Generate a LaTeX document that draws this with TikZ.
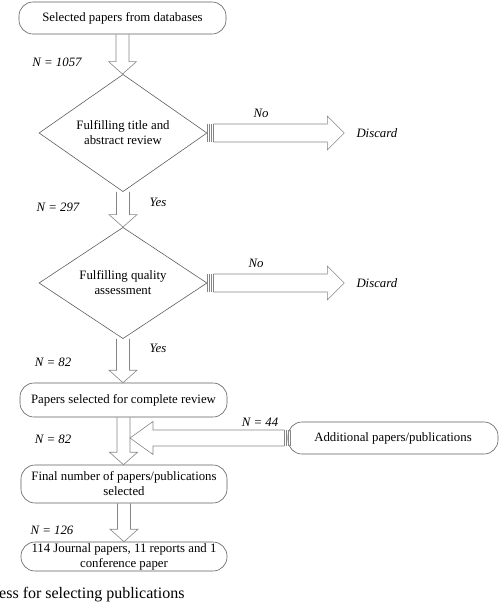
\documentclass[tikz,border=0pt]{standalone}
\usepackage{fontspec}
\setmainfont{Liberation Serif}
\usetikzlibrary{positioning,shapes.geometric,calc}
\definecolor{cline}{HTML}{5E5E5E}
\definecolor{carrow}{HTML}{858585}

% hollow block arrows between node anchors
\newcommand{\vblock}[2]{%
  \draw[blk] ($(#1)+(-6.5,0)$) -- ($(#1 |- #2)+(-6.5,12.5)$) -- ($(#1 |- #2)+(-14,12.5)$)
    -- (#1 |- #2) -- ($(#1 |- #2)+(14,12.5)$) -- ($(#1 |- #2)+(6.5,12.5)$) -- ($(#1)+(6.5,0)$);}
\newcommand{\rblock}[2]{%
  \draw[blk] ($(#1)+(6,9)$) -- ($(#2 |- #1)+(-17,9)$) -- ($(#2 |- #1)+(-17,17)$)
    -- (#2 |- #1) -- ($(#2 |- #1)+(-17,-17)$) -- ($(#2 |- #1)+(-17,-9)$) -- ($(#1)+(6,-9)$);
  \foreach \dx in {0,2,4,6} \draw[blk] ($(#1)+(\dx,9)$) -- ($(#1)+(\dx,-9)$);}
\newcommand{\lblock}[2]{%
  \draw[blk] ($(#1)+(-3,8)$) -- ($(#2 |- #1)+(23,8)$) -- ($(#2 |- #1)+(23,16.5)$)
    -- (#2 |- #1) -- ($(#2 |- #1)+(23,-16.5)$) -- ($(#2 |- #1)+(23,-8)$) -- ($(#1)+(-3,-8)$);
  \foreach \dx in {-3,-1,1,3} \draw[blk] ($(#1)+(\dx,8)$) -- ($(#1)+(\dx,-8)$);}

\begin{document}
\begin{tikzpicture}[
  x=1pt, y=1pt,
  font=\fontsize{12.8}{15}\selectfont,
  box/.style={draw=cline, line width=0.6pt, rounded corners=14pt, align=center, inner sep=1pt,
    minimum width=207pt, minimum height=32pt},
  test/.style={diamond, draw=cline, line width=0.6pt, align=center, inner sep=0pt,
    minimum width=168pt, minimum height=100pt},
  blk/.style={draw=carrow, line width=0.6pt, line join=miter},
  lbl/.style={font=\fontsize{12.8}{15}\selectfont\itshape, inner sep=0pt},
]
\useasboundingbox (0,0) rectangle (500,-611);

% ---------- main column ----------
\node[box] (src) at (122.5,-18) {Selected papers from databases};
\node[test] (tia) at (123,-133) {Fulfilling title and\\abstract review};
\node[test] (qa) at (123,-283) {Fulfilling quality\\assessment};
\node[box, minimum height=34pt] (full) at (123.5,-400) {Papers selected for complete review};
\node[box, minimum width=206pt, minimum height=38pt] (fin) at (124,-484) {Final number of papers/publications\\selected};
\node[box, minimum width=206pt, minimum height=29pt] (res) at (124,-556.5) {114 Journal papers, 11 reports and 1\\conference paper};
\node[box, minimum width=210pt] (add) at (393,-438) {Additional papers/publications};

\vblock{src.south}{tia.north}
\vblock{tia.south}{qa.north}
\vblock{qa.south}{full.north}
\vblock{full.south}{fin.north}
\vblock{fin.south}{res.north}

% ---------- discards ----------
\coordinate (t1) at ($(tia.east)+(137,0)$);
\coordinate (t2) at ($(qa.east)+(137,0)$);
\rblock{tia.east}{t1}
\rblock{qa.east}{t2}
\node[lbl, right=12pt of t1] (dis1) {Discard};
\node[lbl, right=12pt of t2] (dis2) {Discard};

% ---------- additional papers ----------
\coordinate (jn) at ($(full.south)+(6.5,0)$);
\lblock{add.west}{jn}

% ---------- counts ----------
\node[lbl] (n1) at (57,-62) {N = 1057};
\node[lbl] (no1) at (261,-113) {No};
\node[lbl] (n2) at (58,-207) {N = 297};
\node[lbl] (y1) at (158,-202) {Yes};
\node[lbl] (no2) at (256,-263) {No};
\node[lbl] (y2) at (158,-348) {Yes};
\node[lbl] (n3) at (53,-362) {N = 82};
\node[lbl] (n4) at (260,-422) {N = 44};
\node[lbl] (n5) at (53,-439) {N = 82};
\node[lbl] (n6) at (52,-530) {N = 126};

\node[font=\fontsize{16}{18}\selectfont, anchor=west, inner sep=0pt] (cap) at (-1,-595) {ess for selecting publications};
\end{tikzpicture}
\end{document}
